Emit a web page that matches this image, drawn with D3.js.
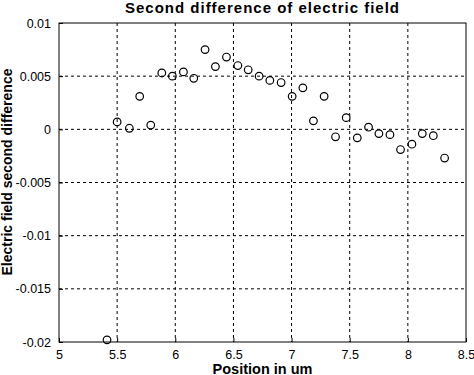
<!DOCTYPE html>
<html>
<head>
<meta charset="utf-8">
<script src="https://cdn.jsdelivr.net/npm/d3@7"></script>
<style>
  body { margin: 0; background: #fff; }
  svg { display: block; font-family: "Liberation Sans", Arial, sans-serif; }
</style>
</head>
<body>
<div id="chart_area"></div>
<script>
// position (um) and second difference of the field
var positions = [5.413, 5.5, 5.605, 5.694, 5.789, 5.884, 5.975, 6.07, 6.159, 6.256,
    6.345, 6.44, 6.538, 6.627, 6.721, 6.813, 6.91, 7.005, 7.097, 7.188,
    7.28, 7.378, 7.47, 7.565, 7.662, 7.751, 7.846, 7.937, 8.035, 8.124,
    8.219, 8.316];
var secondDiff = [-0.0198, 0.0007, 0.0001, 0.0031, 0.0004, 0.0053, 0.005, 0.0054, 0.0048, 0.0075,
    0.0059, 0.0068, 0.006, 0.0056, 0.005, 0.0046, 0.0044, 0.0031, 0.0039, 0.0008,
    0.0031, -0.0007, 0.0011, -0.0008, 0.0002, -0.0004, -0.0005, -0.0019, -0.0014, -0.0004,
    -0.0006, -0.0027];
var xTicks = [5, 5.5, 6, 6.5, 7, 7.5, 8, 8.5];
var yTicks = [-0.02, -0.015, -0.01, -0.005, 0, 0.005, 0.01];

var width = 474, height = 375;
var margin = { top: 23, right: 8, bottom: 33, left: 59 };
var w = width - margin.left - margin.right;
var h = height - margin.top - margin.bottom;

var svg = d3.select("#chart_area")
    .append("svg")
    .attr("width", width)
    .attr("height", height);

var g = svg.append("g")
    .attr("transform", "translate(" + margin.left + "," + margin.top + ")");

var x = d3.scaleLinear().domain([5, 8.5]).range([0, w]);
var y = d3.scaleLinear().domain([-0.02, 0.01]).range([h, 0]);

// dashed grid
g.selectAll(".vgrid")
    .data(xTicks.slice(1, -1))
    .enter().append("line")
    .attr("x1", function (d) { return x(d); })
    .attr("x2", function (d) { return x(d); })
    .attr("y1", 0).attr("y2", h)
    .attr("stroke", "#000").attr("stroke-width", 1)
    .attr("stroke-dasharray", "3,3");

g.selectAll(".hgrid")
    .data(yTicks.slice(1, -1))
    .enter().append("line")
    .attr("y1", function (d) { return y(d); })
    .attr("y2", function (d) { return y(d); })
    .attr("x1", 0).attr("x2", w)
    .attr("stroke", "#000").attr("stroke-width", 1)
    .attr("stroke-dasharray", "3,3");

// axes with inward ticks
var xAxis = g.append("g")
    .attr("transform", "translate(0," + h + ")")
    .call(d3.axisBottom(x).tickValues(xTicks).tickSizeInner(-4).tickSizeOuter(0)
        .tickPadding(8).tickFormat(d3.format("")));
var yAxis = g.append("g")
    .call(d3.axisLeft(y).tickValues(yTicks).tickSizeInner(-4).tickSizeOuter(0)
        .tickPadding(8).tickFormat(function (d) { return d === 0 ? "0" : String(+d.toFixed(3)); }));

[xAxis, yAxis].forEach(function (a) {
    a.selectAll("text").attr("font-size", 12.5).attr("fill", "#000")
        .attr("font-family", "'Liberation Sans', Arial, sans-serif");
    a.selectAll("line").attr("stroke", "#000");
    a.select(".domain").remove();
});

// box
g.append("rect")
    .attr("width", w).attr("height", h)
    .attr("fill", "none").attr("stroke", "#000").attr("stroke-width", 1);

// data points
g.selectAll(".pt")
    .data(positions)
    .enter().append("circle")
    .attr("cx", function (d) { return x(d); })
    .attr("cy", function (d, i) { return y(secondDiff[i]); })
    .attr("r", 3.8)
    .attr("fill", "none")
    .attr("stroke", "#000")
    .attr("stroke-width", 1.2);

svg.append("text")
    .attr("x", margin.left + w / 2)
    .attr("y", 12.5)
    .attr("text-anchor", "middle")
    .attr("font-size", 15).attr("font-weight", "bold")
    .attr("letter-spacing", 1)
    .text("Second difference of electric field");

svg.append("text")
    .attr("x", margin.left + w / 2)
    .attr("y", 373.5)
    .attr("text-anchor", "middle")
    .attr("font-size", 14.5).attr("font-weight", "bold")
    .text("Position in um");

svg.append("text")
    .attr("transform", "translate(12,172) rotate(-90)")
    .attr("text-anchor", "middle")
    .attr("font-size", 14).attr("font-weight", "bold")
    .text("Electric field second difference");
</script>
</body>
</html>
